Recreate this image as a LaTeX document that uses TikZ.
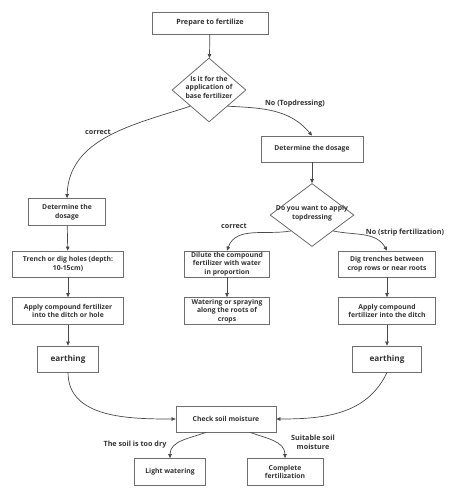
\documentclass[tikz,border=0pt]{standalone}
\usepackage{fontspec}
\setmainfont{Open Sans}
\usetikzlibrary{arrows.meta,shapes.geometric}
\definecolor{boxStroke}{HTML}{6E6E6E}
\definecolor{lineGray}{HTML}{4A4A4A}
\definecolor{textGray}{HTML}{333333}
\newcommand{\diamondtext}[1]{\smash{\makebox[0pt]{\begin{tabular}{@{}c@{}}#1\end{tabular}}}}

\begin{document}
\begin{tikzpicture}[x=1pt,y=1pt,
  font=\bfseries\fontsize{6.8}{8.5}\selectfont,text=textGray,>={Triangle[length=4pt,width=3.6pt]},
  proc/.style={rectangle,draw=boxStroke,line width=.8pt,minimum height=26pt,inner sep=1pt,align=center},
  decision/.style={diamond,draw=boxStroke,line width=.8pt,inner sep=0pt,align=center},
  big/.style={font=\bfseries\fontsize{8.2}{10}\selectfont},
  edge/.style={->,line width=.7pt,draw=lineGray},
  lbl/.style={font=\bfseries\fontsize{7.2}{8.7}\selectfont,align=center}
]
\fill[white] (0,0) rectangle (474,-498);
\useasboundingbox (0,0) rectangle (474,-498);
% base fertilizer branch on the left, topdressing branch on the right
\node[proc,minimum width=116pt,minimum height=22pt,font=\bfseries\fontsize{7.2}{8.5}\selectfont] (prepare) at (210,-23) {Prepare to fertilize};
\node[decision,minimum width=74pt,minimum height=64pt] (base) at (209,-90) {\diamondtext{Is it for the\\application of\\base fertilizer}};
\node[proc,minimum width=77pt,minimum height=27pt] (dosageL) at (67,-212) {Determine the\\dosage};
\node[proc,minimum width=102pt] (dosageR) at (312,-149) {Determine the dosage};
\node[decision,minimum width=84pt,minimum height=63pt] (topdress) at (312,-215) {\diamondtext{Do you want to apply\\topdressing}};
\node[proc,minimum width=111pt] (trench) at (68,-264) {Trench or dig holes (depth:\\10-15cm)};
\node[proc,minimum width=111pt,minimum height=27pt] (applyL) at (68,-311) {Apply compound fertilizer\\into the ditch or hole};
\node[proc,big,minimum width=61pt] (earthL) at (68,-359) {earthing};
\node[proc,minimum width=85pt] (dilute) at (227,-264) {Dilute the compound\\fertilizer with water\\in proportion};
\node[proc,minimum width=85pt,minimum height=27pt] (watering) at (227,-311) {Watering or spraying\\along the roots of\\crops};
\node[proc,minimum width=97pt] (dig) at (387,-264) {Dig trenches between\\crop rows or near roots};
\node[proc,minimum width=97pt,minimum height=27pt] (applyR) at (387,-311) {Apply compound\\fertilizer into the ditch};
\node[proc,big,minimum width=69pt] (earthR) at (387,-359) {earthing};
\node[proc,minimum width=100pt] (check) at (226,-419) {Check soil moisture};
\node[proc,minimum width=71pt,minimum height=27pt] (light) at (170,-472) {Light watering};
\node[proc,minimum width=76pt,minimum height=27pt] (complete) at (285,-472) {Complete\\fertilization};
\draw[edge] (prepare) -- (base);
\draw[edge] (base.south west) to[out=198,in=88] (dosageL.north);
\draw[edge] (base.south east) to[out=-3,in=130] (dosageR.north);
\draw[edge] (dosageR) -- (topdress);
\draw[edge] (topdress.south west) to[out=190,in=70] (dilute.north);
\draw[edge] (topdress.south east) to[out=-12,in=120] (dig.north);
\draw[edge] (dosageL) -- (trench);
\draw[edge] (trench) -- (applyL);
\draw[edge] (applyL) -- (earthL);
\draw[edge] (dilute) -- (watering);
\draw[edge] (dig) -- (applyR);
\draw[edge] (applyR) -- (earthR);
\draw[edge] (earthL.south) to[out=-90,in=180] (check.west);
\draw[edge] (earthR.south) to[out=-115,in=0] (check.east);
\draw[edge] ([xshift=-20pt]check.south) to[out=200,in=90] (light.north);
\draw[edge] ([xshift=24pt]check.south) to[out=-20,in=90] (complete.north);
\node[lbl] (correctA) at (98,-132) {correct};
\node[lbl] (noA) at (295,-104) {No (Topdressing)};
\node[lbl] (correctB) at (234,-226) {correct};
\node[lbl] (noB) at (405,-233) {No (strip fertilization)};
\node[lbl] (dry) at (135,-445) {The soil is too dry};
\node[lbl] (suitable) at (313,-442) {Suitable soil\\moisture};
\end{tikzpicture}
\end{document}
